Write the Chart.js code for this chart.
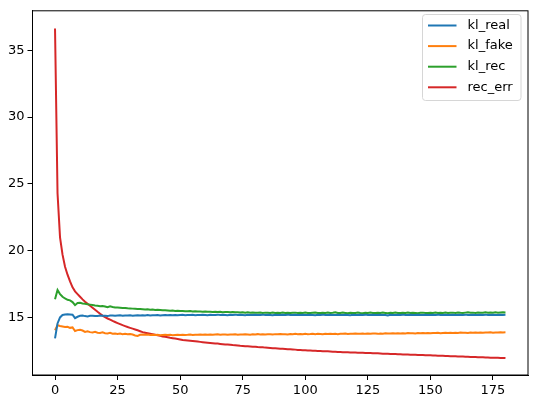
<!DOCTYPE html>
<html>
<head>
<meta charset="utf-8">
<script src="https://cdn.jsdelivr.net/npm/chart.js@4.4.1/dist/chart.umd.min.js"></script>
<style>
  html, body { margin: 0; padding: 0; background: #fff; }
  #lossChart { display: block; }
</style>
</head>
<body>
<canvas id="lossChart" width="536" height="405"></canvas>
<script>
const seriesNames = ['kl_real', 'kl_fake', 'kl_rec', 'rec_err'];
const xTicks = [0, 25, 50, 75, 100, 125, 150, 175];
const yTicks = [15, 20, 25, 30, 35];

const klReal = [
  13.43, 14.55, 15.0, 15.18, 15.22, 15.23, 15.22, 15.2, 14.95, 15.05,
  15.12, 15.14, 15.1, 15.08, 15.12, 15.13, 15.1, 15.11, 15.14, 15.12,
  15.13, 15.1, 15.14, 15.15, 15.12, 15.14, 15.16, 15.13, 15.15, 15.14,
  15.16, 15.13, 15.15, 15.17, 15.14, 15.16, 15.15, 15.18, 15.15, 15.17,
  15.16, 15.18, 15.15, 15.17, 15.19, 15.16, 15.18, 15.17, 15.19, 15.16,
  15.18, 15.2, 15.17, 15.19, 15.18, 15.2, 15.17, 15.19, 15.18, 15.2,
  15.19, 15.17, 15.2, 15.18, 15.19, 15.21, 15.18, 15.2, 15.19, 15.17,
  15.2, 15.19, 15.21, 15.18, 15.2, 15.19, 15.17, 15.2, 15.18, 15.19,
  15.2, 15.18, 15.19, 15.21, 15.18, 15.2, 15.19, 15.17, 15.2, 15.19,
  15.18, 15.2, 15.19, 15.21, 15.18, 15.19, 15.2, 15.18, 15.19, 15.21,
  15.19, 15.18, 15.2, 15.19, 15.17, 15.2, 15.19, 15.21, 15.18, 15.19,
  15.2, 15.18, 15.19, 15.21, 15.19, 15.18, 15.2, 15.19, 15.17, 15.2,
  15.19, 15.18, 15.2, 15.19, 15.21, 15.18, 15.19, 15.2, 15.18, 15.19,
  15.21, 15.19, 15.18, 15.14, 15.2, 15.19, 15.18, 15.2, 15.19, 15.21,
  15.18, 15.19, 15.2, 15.18, 15.19, 15.21, 15.19, 15.18, 15.2, 15.19,
  15.18, 15.2, 15.19, 15.21, 15.18, 15.19, 15.2, 15.18, 15.19, 15.21,
  15.19, 15.18, 15.2, 15.19, 15.21, 15.18, 15.19, 15.2, 15.19, 15.18,
  15.2, 15.19, 15.21, 15.18, 15.19, 15.2, 15.19, 15.18, 15.2, 15.19, 15.2
];

const klFake = [
  14.04, 14.42, 14.36, 14.32, 14.28, 14.3, 14.22, 14.25, 13.98, 14.05,
  14.08, 14.02, 13.92, 13.96, 13.9, 13.88, 13.92, 13.86, 13.84, 13.88,
  13.82, 13.8, 13.85, 13.78, 13.8, 13.76, 13.79, 13.75, 13.77, 13.74,
  13.76, 13.72, 13.65, 13.62, 13.7, 13.73, 13.7, 13.72, 13.69, 13.71,
  13.68, 13.7, 13.67, 13.69, 13.71, 13.68, 13.7, 13.67, 13.69, 13.7,
  13.68, 13.71, 13.69, 13.7, 13.72, 13.69, 13.71, 13.7, 13.72, 13.7,
  13.72, 13.71, 13.73, 13.7, 13.72, 13.74, 13.71, 13.73, 13.72, 13.7,
  13.73, 13.72, 13.74, 13.71, 13.73, 13.72, 13.74, 13.73, 13.71, 13.74,
  13.73, 13.75, 13.72, 13.74, 13.73, 13.75, 13.74, 13.72, 13.75, 13.74,
  13.76, 13.74, 13.75, 13.73, 13.76, 13.75, 13.77, 13.74, 13.76, 13.75,
  13.77, 13.75, 13.76, 13.78, 13.75, 13.77, 13.76, 13.74, 13.77, 13.76,
  13.78, 13.76, 13.77, 13.75, 13.78, 13.77, 13.79, 13.76, 13.78, 13.77,
  13.79, 13.77, 13.78, 13.8, 13.77, 13.79, 13.78, 13.8, 13.79, 13.77,
  13.8, 13.78, 13.81, 13.79, 13.8, 13.82, 13.79, 13.81, 13.8, 13.82,
  13.8, 13.83, 13.81, 13.82, 13.8, 13.83, 13.82, 13.84, 13.81, 13.83,
  13.82, 13.84, 13.83, 13.85, 13.82, 13.84, 13.86, 13.83, 13.85, 13.84,
  13.86, 13.84, 13.87, 13.85, 13.86, 13.84, 13.87, 13.86, 13.88, 13.85,
  13.87, 13.86, 13.88, 13.87, 13.89, 13.86, 13.88, 13.87, 13.89, 13.88, 13.89
];

const klRec = [
  16.37, 17.05, 16.75, 16.55, 16.42, 16.32, 16.28, 16.15, 15.92, 16.08,
  16.1, 16.05, 16.03, 15.98, 15.96, 15.93, 15.9, 15.88, 15.84, 15.86,
  15.82, 15.76, 15.83, 15.78, 15.75, 15.74, 15.72, 15.7, 15.71, 15.68,
  15.67, 15.66, 15.65, 15.64, 15.64, 15.62, 15.6, 15.61, 15.58, 15.6,
  15.56, 15.57, 15.55, 15.53, 15.54, 15.52, 15.5, 15.52, 15.49, 15.5,
  15.48, 15.49, 15.47, 15.46, 15.48, 15.45, 15.46, 15.44, 15.45, 15.43,
  15.44, 15.42, 15.43, 15.41, 15.42, 15.4, 15.42, 15.39, 15.41, 15.4,
  15.39, 15.4, 15.38, 15.39, 15.37, 15.38, 15.36, 15.38, 15.35, 15.37,
  15.36, 15.35, 15.37, 15.34, 15.36, 15.35, 15.33, 15.36, 15.34, 15.35,
  15.33, 15.36, 15.34, 15.35, 15.33, 15.35, 15.36, 15.33, 15.35, 15.34,
  15.36, 15.34, 15.33, 15.35, 15.37, 15.34, 15.33, 15.35, 15.34, 15.36,
  15.33, 15.35, 15.38, 15.34, 15.33, 15.36, 15.34, 15.32, 15.35, 15.33,
  15.34, 15.36, 15.33, 15.32, 15.35, 15.34, 15.36, 15.33, 15.34, 15.35,
  15.33, 15.36, 15.34, 15.32, 15.35, 15.33, 15.37, 15.34, 15.33, 15.35,
  15.34, 15.36, 15.33, 15.35, 15.34, 15.32, 15.35, 15.36, 15.34, 15.33,
  15.35, 15.34, 15.37, 15.33, 15.35, 15.34, 15.36, 15.33, 15.35, 15.36,
  15.34, 15.37, 15.35, 15.34, 15.36, 15.38, 15.35, 15.36, 15.34, 15.37,
  15.36, 15.35, 15.38, 15.36, 15.37, 15.35, 15.38, 15.36, 15.37, 15.38, 15.37
];

const recErr = [
  36.63, 24.3, 21.0, 19.7, 18.8, 18.2, 17.7, 17.25, 16.95, 16.75,
  16.55, 16.35, 16.18, 16.02, 15.87, 15.72, 15.57, 15.42, 15.28, 15.14,
  15.02, 14.92, 14.83, 14.74, 14.66, 14.58, 14.5, 14.42, 14.35, 14.28,
  14.22, 14.16, 14.1, 14.04, 13.97, 13.9, 13.86, 13.82, 13.78, 13.74,
  13.7, 13.66, 13.62, 13.58, 13.55, 13.52, 13.48, 13.45, 13.42, 13.39,
  13.35, 13.31, 13.29, 13.27, 13.25, 13.23, 13.21, 13.19, 13.17, 13.15,
  13.13, 13.11, 13.09, 13.07, 13.05, 13.04, 13.02, 13.0, 12.98, 12.97,
  12.95, 12.93, 12.92, 12.9, 12.88, 12.87, 12.85, 12.84, 12.83, 12.81,
  12.8, 12.78, 12.77, 12.76, 12.74, 12.73, 12.72, 12.7, 12.69, 12.68,
  12.66, 12.65, 12.64, 12.62, 12.61, 12.6, 12.59, 12.57, 12.56, 12.55,
  12.54, 12.53, 12.52, 12.51, 12.5, 12.49, 12.48, 12.47, 12.46, 12.46,
  12.45, 12.44, 12.43, 12.42, 12.41, 12.4, 12.4, 12.39, 12.38, 12.37,
  12.37, 12.36, 12.35, 12.35, 12.34, 12.33, 12.33, 12.32, 12.31, 12.31,
  12.3, 12.29, 12.29, 12.28, 12.27, 12.26, 12.26, 12.25, 12.24, 12.23,
  12.23, 12.22, 12.21, 12.21, 12.2, 12.19, 12.19, 12.18, 12.17, 12.17,
  12.16, 12.15, 12.15, 12.14, 12.13, 12.13, 12.12, 12.11, 12.1, 12.1,
  12.09, 12.08, 12.07, 12.07, 12.06, 12.05, 12.04, 12.04, 12.03, 12.02,
  12.02, 12.01, 12.0, 12.0, 11.99, 11.99, 11.98, 11.98, 11.97, 11.97, 11.96
];

const lineColors = ['#1f77b4', '#ff7f0e', '#2ca02c', '#d62728'];
const FONT = 'DejaVu Sans';

// epoch index on x
function toPoints(values) {
    return values.map((v, i) => ({ x: i, y: v }));
}

// matplotlib-ish box around the axes
const framePlugin = {
    id: 'frame',
    afterDraw(chart) {
        const { ctx, chartArea } = chart;
        ctx.save();
        ctx.strokeStyle = '#000';
        ctx.lineWidth = 1;
        ctx.strokeRect(chartArea.left, chartArea.top, chartArea.right - chartArea.left, chartArea.bottom - chartArea.top);
        ctx.restore();
    }
};

// legend drawn inside the plot, upper right
const innerLegend = {
    id: 'innerLegend',
    afterDraw(chart) {
        const ctx = chart.ctx;
        const x0 = 422.5, y0 = 14.5, w = 98.5, h = 86, r = 3;
        ctx.save();
        ctx.beginPath();
        ctx.moveTo(x0 + r, y0);
        ctx.arcTo(x0 + w, y0, x0 + w, y0 + h, r);
        ctx.arcTo(x0 + w, y0 + h, x0, y0 + h, r);
        ctx.arcTo(x0, y0 + h, x0, y0, r);
        ctx.arcTo(x0, y0, x0 + w, y0, r);
        ctx.closePath();
        ctx.fillStyle = 'rgba(255,255,255,0.8)';
        ctx.fill();
        ctx.strokeStyle = '#d6d6d6';
        ctx.lineWidth = 1;
        ctx.stroke();

        ctx.font = '13px ' + FONT;
        ctx.textBaseline = 'middle';
        chart.data.datasets.forEach((ds, i) => {
            const y = 25.5 + i * 20.6;
            ctx.strokeStyle = ds.borderColor;
            ctx.lineWidth = 2;
            ctx.beginPath();
            ctx.moveTo(428, y);
            ctx.lineTo(456.5, y);
            ctx.stroke();
            ctx.fillStyle = '#000';
            ctx.fillText(ds.label, 467.5, y);
        });
        ctx.restore();
    }
};

function createChart() {
    const ctx = document.getElementById('lossChart').getContext('2d');
    const allSeries = [klReal, klFake, klRec, recErr];

    new Chart(ctx, {
        type: 'line',
        data: {
            datasets: allSeries.map((vals, i) => ({
                label: seriesNames[i],
                data: toPoints(vals),
                borderColor: lineColors[i],
                borderWidth: 2,
                pointRadius: 0,
                tension: 0,
                fill: false
            }))
        },
        options: {
            responsive: false,
            animation: false,
            devicePixelRatio: 1,
            layout: { padding: { top: 6, right: 8, left: 0, bottom: 0 } },
            plugins: {
                legend: { display: false },
                tooltip: { enabled: false }
            },
            scales: {
                x: {
                    type: 'linear',
                    min: -9,
                    max: 189,
                    afterBuildTicks: (scale) => { scale.ticks = xTicks.map(v => ({ value: v })); },
                    afterFit: (scale) => { scale.height = 30; },
                    grid: { drawOnChartArea: false, drawTicks: true, tickLength: 5, tickColor: '#000' },
                    border: { display: true, color: '#000', width: 1 },
                    ticks: { color: '#000', font: { family: FONT, size: 13 }, padding: 3, maxRotation: 0 }
                },
                y: {
                    min: 10.69,
                    max: 37.96,
                    afterBuildTicks: (scale) => { scale.ticks = yTicks.map(v => ({ value: v })); },
                    afterFit: (scale) => { scale.width = 32.5; },
                    grid: { drawOnChartArea: false, drawTicks: true, tickLength: 5, tickColor: '#000' },
                    border: { display: true, color: '#000', width: 1 },
                    ticks: { color: '#000', font: { family: FONT, size: 13 }, padding: 3 }
                }
            }
        },
        plugins: [framePlugin, innerLegend]
    });
}

window.onload = createChart;
</script>
</body>
</html>
